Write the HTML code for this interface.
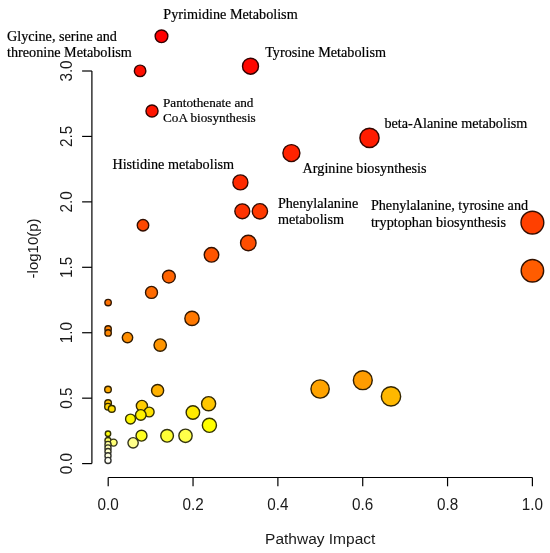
<!DOCTYPE html>
<html><head><meta charset="utf-8"><style>
html,body{margin:0;padding:0;background:#fff;}
svg{display:block;}
</style></head><body>
<svg width="550" height="553" viewBox="0 0 550 553">
<rect width="550" height="553" fill="#fff"/>
<g stroke="#000" stroke-width="1.2" stroke-linecap="butt">
<line x1="108.2" y1="477.5" x2="532.4" y2="477.5"/>
<line x1="108.20" y1="477.5" x2="108.20" y2="486.3"/>
<line x1="193.04" y1="477.5" x2="193.04" y2="486.3"/>
<line x1="277.88" y1="477.5" x2="277.88" y2="486.3"/>
<line x1="362.72" y1="477.5" x2="362.72" y2="486.3"/>
<line x1="447.56" y1="477.5" x2="447.56" y2="486.3"/>
<line x1="532.40" y1="477.5" x2="532.40" y2="486.3"/>
<line x1="91.9" y1="463.6" x2="91.9" y2="71.0"/>
<line x1="91.9" y1="463.60" x2="82.10000000000001" y2="463.60"/>
<line x1="91.9" y1="398.17" x2="82.10000000000001" y2="398.17"/>
<line x1="91.9" y1="332.73" x2="82.10000000000001" y2="332.73"/>
<line x1="91.9" y1="267.30" x2="82.10000000000001" y2="267.30"/>
<line x1="91.9" y1="201.87" x2="82.10000000000001" y2="201.87"/>
<line x1="91.9" y1="136.43" x2="82.10000000000001" y2="136.43"/>
<line x1="91.9" y1="71.00" x2="82.10000000000001" y2="71.00"/>
</g>
<g font-family="'Liberation Sans', sans-serif" font-size="16" fill="#1a1a1a">
<text transform="translate(108.20 509.8) scale(0.955 1)" text-anchor="middle">0.0</text>
<text transform="translate(193.04 509.8) scale(0.955 1)" text-anchor="middle">0.2</text>
<text transform="translate(277.88 509.8) scale(0.955 1)" text-anchor="middle">0.4</text>
<text transform="translate(362.72 509.8) scale(0.955 1)" text-anchor="middle">0.6</text>
<text transform="translate(447.56 509.8) scale(0.955 1)" text-anchor="middle">0.8</text>
<text transform="translate(532.40 509.8) scale(0.955 1)" text-anchor="middle">1.0</text>
<text transform="translate(72.1 463.60) rotate(-90) scale(0.955 1)" text-anchor="middle">0.0</text>
<text transform="translate(72.1 398.17) rotate(-90) scale(0.955 1)" text-anchor="middle">0.5</text>
<text transform="translate(72.1 332.73) rotate(-90) scale(0.955 1)" text-anchor="middle">1.0</text>
<text transform="translate(72.1 267.30) rotate(-90) scale(0.955 1)" text-anchor="middle">1.5</text>
<text transform="translate(72.1 201.87) rotate(-90) scale(0.955 1)" text-anchor="middle">2.0</text>
<text transform="translate(72.1 136.43) rotate(-90) scale(0.955 1)" text-anchor="middle">2.5</text>
<text transform="translate(72.1 71.00) rotate(-90) scale(0.955 1)" text-anchor="middle">3.0</text>
<text x="320.2" y="543.8" text-anchor="middle" font-size="15.5">Pathway Impact</text>
<text transform="translate(38.2 248.4) rotate(-90)" text-anchor="middle" font-size="15">-log10(p)</text>
</g>
<g stroke-width="1.4">
<circle cx="161.5" cy="36.3" r="6.35" fill="#FF0000" stroke="#330000"/>
<circle cx="250.5" cy="66.2" r="8.00" fill="#FF0700" stroke="#330100"/>
<circle cx="140.1" cy="70.9" r="5.75" fill="#FF0E00" stroke="#330300"/>
<circle cx="152.0" cy="111.0" r="6.05" fill="#FF1500" stroke="#330400"/>
<circle cx="369.5" cy="137.9" r="9.60" fill="#FF1C00" stroke="#330600"/>
<circle cx="291.4" cy="153.1" r="8.50" fill="#FF2300" stroke="#330700"/>
<circle cx="240.4" cy="182.4" r="7.50" fill="#FF2A00" stroke="#330800"/>
<circle cx="242.3" cy="211.3" r="7.45" fill="#FF3200" stroke="#330A00"/>
<circle cx="259.9" cy="211.3" r="7.65" fill="#FF3900" stroke="#330B00"/>
<circle cx="532.4" cy="222.6" r="11.40" fill="#FF4000" stroke="#330D00"/>
<circle cx="143.0" cy="225.2" r="5.75" fill="#FF4700" stroke="#330E00"/>
<circle cx="248.3" cy="243.0" r="7.75" fill="#FF4E00" stroke="#331000"/>
<circle cx="211.5" cy="254.8" r="7.30" fill="#FF5500" stroke="#331100"/>
<circle cx="532.4" cy="270.7" r="11.25" fill="#FF5C00" stroke="#331200"/>
<circle cx="168.9" cy="276.6" r="6.40" fill="#FF6300" stroke="#331400"/>
<circle cx="151.5" cy="292.4" r="6.00" fill="#FF6A00" stroke="#331500"/>
<circle cx="108.1" cy="302.6" r="3.20" fill="#FF7100" stroke="#331700"/>
<circle cx="192.0" cy="318.4" r="7.15" fill="#FF7800" stroke="#331800"/>
<circle cx="108.1" cy="328.9" r="3.20" fill="#FF8000" stroke="#331A00"/>
<circle cx="108.1" cy="332.9" r="3.20" fill="#FF8700" stroke="#331B00"/>
<circle cx="127.5" cy="337.6" r="5.20" fill="#FF8E00" stroke="#331C00"/>
<circle cx="160.2" cy="345.1" r="6.20" fill="#FF9500" stroke="#331E00"/>
<circle cx="362.8" cy="380.2" r="9.45" fill="#FF9C00" stroke="#331F00"/>
<circle cx="320.1" cy="389.0" r="9.15" fill="#FFA300" stroke="#332100"/>
<circle cx="108.0" cy="389.5" r="3.30" fill="#FFAA00" stroke="#332200"/>
<circle cx="157.6" cy="390.5" r="6.05" fill="#FFB100" stroke="#332300"/>
<circle cx="391.0" cy="396.4" r="9.65" fill="#FFB800" stroke="#332500"/>
<circle cx="108.1" cy="403.0" r="3.30" fill="#FFBF00" stroke="#332600"/>
<circle cx="208.6" cy="403.7" r="7.05" fill="#FFC600" stroke="#332800"/>
<circle cx="141.9" cy="405.9" r="5.55" fill="#FFCD00" stroke="#332900"/>
<circle cx="108.0" cy="406.7" r="3.30" fill="#FFD400" stroke="#332A00"/>
<circle cx="111.8" cy="408.9" r="3.40" fill="#FFDC00" stroke="#332C00"/>
<circle cx="149.2" cy="412.0" r="4.90" fill="#FFE300" stroke="#332D00"/>
<circle cx="192.9" cy="412.5" r="6.75" fill="#FFEA00" stroke="#332F00"/>
<circle cx="140.8" cy="414.9" r="5.30" fill="#FFF100" stroke="#333000"/>
<circle cx="130.5" cy="419.1" r="4.95" fill="#FFF800" stroke="#333200"/>
<circle cx="209.4" cy="425.3" r="7.05" fill="#FFFF00" stroke="#333300"/>
<circle cx="108.0" cy="433.7" r="2.70" fill="#FFFF0B" stroke="#333302"/>
<circle cx="141.5" cy="435.7" r="5.45" fill="#FFFF20" stroke="#333306"/>
<circle cx="167.1" cy="435.8" r="6.35" fill="#FFFF35" stroke="#33330B"/>
<circle cx="185.5" cy="435.8" r="6.65" fill="#FFFF4A" stroke="#33330F"/>
<circle cx="108.0" cy="440.6" r="3.05" fill="#FFFF60" stroke="#333313"/>
<circle cx="133.1" cy="442.8" r="5.15" fill="#FFFF8A" stroke="#33331C"/>
<circle cx="113.6" cy="442.6" r="3.50" fill="#FFFF75" stroke="#333317"/>
<circle cx="108.0" cy="444.4" r="3.05" fill="#FFFF9F" stroke="#333320"/>
<circle cx="108.0" cy="447.9" r="3.05" fill="#FFFFB5" stroke="#333324"/>
<circle cx="108.0" cy="451.6" r="3.05" fill="#FFFFCA" stroke="#333328"/>
<circle cx="108.0" cy="455.8" r="3.05" fill="#FFFFDF" stroke="#33332D"/>
<circle cx="108.0" cy="460.4" r="3.05" fill="#FFFFF4" stroke="#333331"/>
</g>
<g font-family="'Liberation Serif', serif" fill="#000" stroke="#000" stroke-width="0.2">
<text x="163.3" y="19.3" font-size="14.2">Pyrimidine Metabolism</text>
<text x="7.0" y="40.6" font-size="14.2">Glycine, serine and</text>
<text x="7.0" y="57.0" font-size="14.2">threonine Metabolism</text>
<text x="265.2" y="56.9" font-size="14.2">Tyrosine Metabolism</text>
<text x="163.0" y="106.5" font-size="13.2">Pantothenate and</text>
<text x="163.0" y="121.7" font-size="13.2">CoA biosynthesis</text>
<text x="384.4" y="127.6" font-size="14.2">beta-Alanine metabolism</text>
<text x="112.4" y="168.9" font-size="14.2">Histidine metabolism</text>
<text x="302.6" y="172.5" font-size="14.2">Arginine biosynthesis</text>
<text x="277.9" y="207.9" font-size="14.2">Phenylalanine</text>
<text x="277.9" y="224.3" font-size="14.2">metabolism</text>
<text x="370.9" y="210.4" font-size="14.2">Phenylalanine, tyrosine and</text>
<text x="370.9" y="226.8" font-size="14.2">tryptophan biosynthesis</text>
</g>
</svg>
</body></html>
